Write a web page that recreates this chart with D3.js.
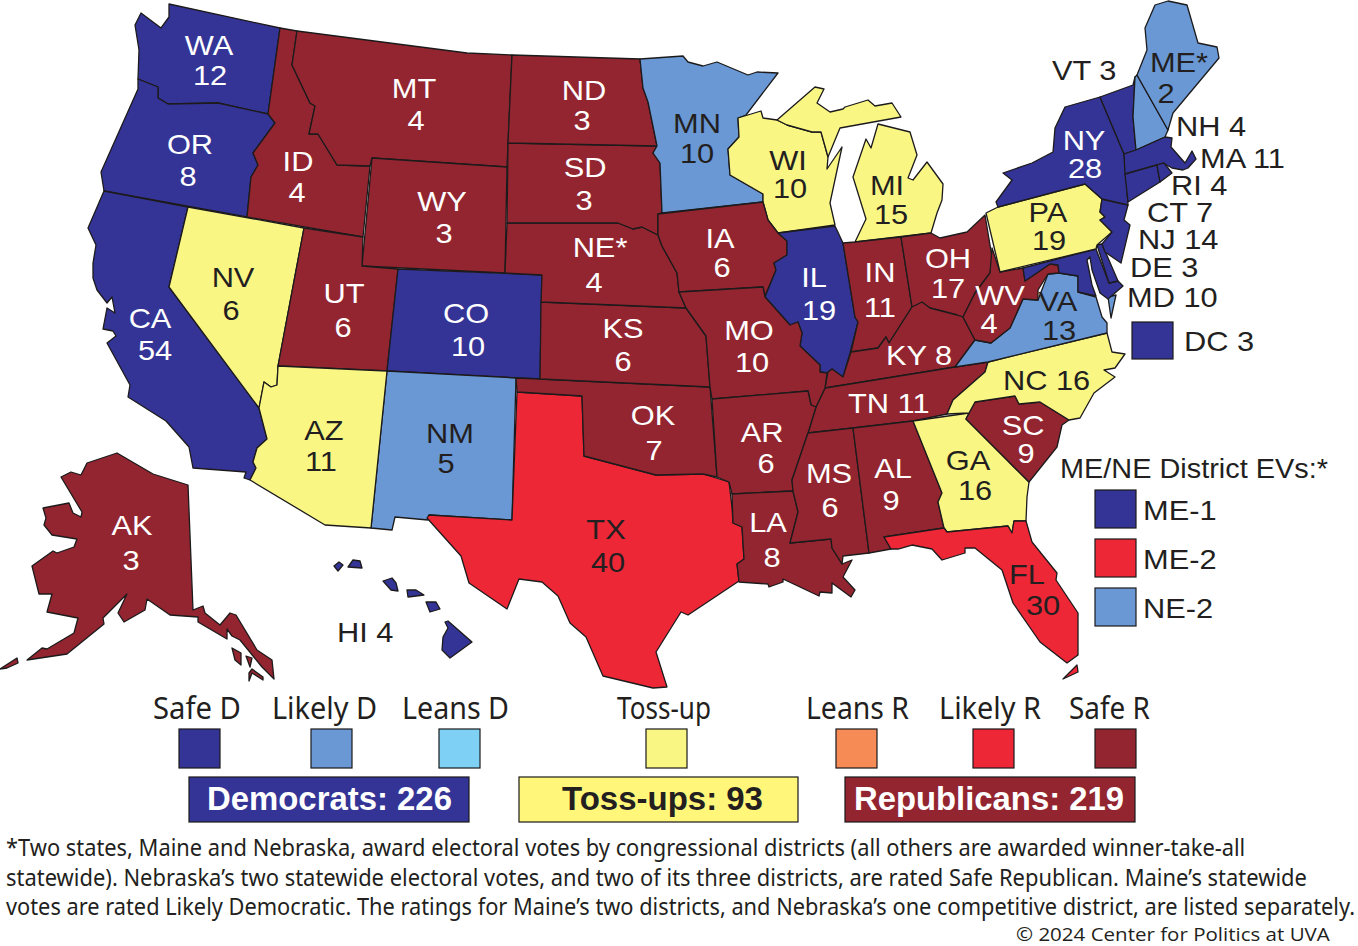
<!DOCTYPE html>
<html>
<head>
<meta charset="utf-8">
<title>2024 Electoral College ratings</title>
<script src="https://cdn.jsdelivr.net/npm/d3@7/dist/d3.min.js"></script>
<style>
  html, body { margin: 0; padding: 0; background: #fff; }
  svg { display: block; }
  .state { stroke: #1c1a1b; stroke-width: 1.3; stroke-linejoin: round; }
  .swatch { stroke: #1c1a1b; stroke-width: 1.2; }
  text { font-family: "Liberation Sans", Arial, sans-serif; }
  .soft { font-family: "Noto Sans", sans-serif; }
</style>
</head>
<body>
<svg id="chart" width="1358" height="946"></svg>
<script>
// state outlines (one list of rings per state)
const WA = [[[169,4],[280,28],[268,114],[218,103],[168,104],[158,98],[158,87],[138,79],[139,50],[135,25],[141,13],[161,28],[169,17]]];
const OR = [[[138,79],[158,87],[158,98],[168,104],[218,103],[268,114],[275,123],[253,153],[258,165],[251,177],[247,217],[104,191],[101,172],[138,89]]];
const CA = [[[104,191],[188,207],[169,287],[259,408],[267,439],[257,448],[253,462],[256,468],[250,480],[244,478],[246,472],[193,468],[189,447],[166,421],[128,397],[130,385],[107,343],[116,336],[113,331],[103,329],[107,308],[115,313],[112,297],[107,303],[97,290],[93,278],[93,263],[96,245],[88,228]]];
const NV = [[[188,207],[304,228],[278,366],[277,385],[271,387],[264,382],[259,408],[169,287]]];
const ID = [[[280,28],[297,31],[292,65],[310,103],[315,106],[309,134],[318,134],[337,165],[370,166],[363,237],[247,217],[251,177],[258,165],[253,153],[275,123],[268,114]]];
const MT = [[[297,31],[467,53],[512,55],[507,167],[372,158],[370,166],[337,165],[318,134],[309,134],[315,106],[310,103],[292,65]]];
const WY = [[[372,158],[507,167],[505,273],[362,266]]];
const UT = [[[304,228],[363,237],[362,266],[398,269],[387,371],[278,366]]];
const CO = [[[398,269],[542,275],[540,379],[387,371]]];
const NM = [[[387,371],[516,378],[512,520],[429,515],[428,520],[395,517],[392,530],[371,528]]];
const AZ = [[[278,366],[387,371],[371,528],[325,525],[250,480],[256,468],[253,462],[257,448],[267,439],[259,408],[264,382],[271,387],[277,385]]];
const TX = [[[517,392],[582,396],[584,456],[656,475],[703,474],[729,482],[732,507],[733,523],[742,527],[744,559],[737,564],[739,581],[688,615],[681,612],[656,652],[667,687],[653,688],[603,676],[586,637],[570,623],[558,596],[542,582],[519,579],[507,609],[469,583],[461,556],[427,518],[429,515],[512,520]]];
const OK = [[[516,378],[540,379],[710,387],[717,477],[703,474],[656,475],[584,456],[582,396],[517,392]]];
const KS = [[[541,302],[686,308],[706,336],[710,387],[540,379]]];
const NE = [[[507,223],[618,223],[633,229],[642,227],[658,235],[662,246],[677,273],[679,292],[686,308],[541,302],[542,275],[505,273]]];
const SD = [[[508,143],[657,146],[653,153],[660,163],[662,213],[658,214],[658,235],[642,227],[633,229],[618,223],[507,223]]];
const ND = [[[512,55],[640,59],[643,88],[648,102],[657,146],[508,143]]];
const MN = [[[640,59],[683,56],[688,62],[703,66],[717,62],[748,75],[757,72],[778,73],[746,115],[738,118],[739,137],[728,149],[730,175],[763,194],[763,202],[662,213],[660,163],[653,153],[657,146],[648,102],[643,88]]];
const WI = [[[738,118],[761,111],[763,118],[777,120],[787,125],[812,132],[821,132],[828,157],[827,169],[842,147],[830,203],[835,225],[778,233],[768,220],[763,202],[763,194],[730,175],[728,149],[739,137]]];
const MI = [
  [[777,120],[815,87],[824,89],[817,103],[830,112],[843,109],[845,107],[868,100],[875,106],[892,103],[901,117],[840,128],[828,157],[821,132],[812,132],[787,125]],
  [[878,124],[910,132],[917,155],[908,178],[913,180],[927,162],[943,184],[942,200],[937,213],[931,233],[855,242],[866,219],[853,177],[866,139],[871,148]]
];
const IA = [[[658,214],[763,202],[768,220],[778,233],[787,241],[787,255],[774,263],[776,270],[765,296],[763,287],[679,292],[677,273],[662,246],[658,235]]];
const IL = [[[778,233],[835,226],[843,243],[855,317],[858,322],[850,353],[843,377],[832,369],[827,373],[820,372],[820,365],[800,346],[802,333],[798,322],[790,325],[765,297],[776,270],[774,263],[787,255],[787,241]]];
const IN = [[[843,243],[855,242],[901,237],[912,307],[889,343],[886,337],[878,348],[851,352],[858,322],[855,317]]];
const OH = [[[901,237],[931,233],[940,238],[967,232],[985,215],[992,257],[992,263],[990,273],[975,293],[963,317],[957,315],[930,308],[922,303],[912,307]]];
const KY = [[[851,352],[878,348],[886,337],[889,343],[912,307],[922,302],[930,308],[957,315],[963,317],[975,340],[955,367],[850,384],[825,388],[828,372],[832,369],[843,377]]];
const TN = [[[825,388],[850,384],[955,367],[988,362],[985,372],[953,400],[947,414],[913,421],[853,428],[808,433],[816,407]]];
const MO = [[[679,292],[763,287],[765,297],[790,325],[798,322],[802,333],[800,346],[820,365],[820,372],[827,373],[825,388],[816,407],[811,405],[808,391],[712,399],[710,387],[706,336],[686,308]]];
const AR = [[[712,399],[808,391],[811,405],[816,407],[808,433],[792,480],[793,491],[732,494],[729,482],[717,477]]];
const LA = [[[732,494],[793,491],[798,512],[790,543],[831,539],[832,548],[842,564],[852,560],[843,577],[855,590],[851,597],[832,583],[832,593],[820,592],[819,596],[783,579],[783,582],[769,587],[768,584],[739,582],[737,564],[744,559],[742,527],[733,523]]];
const MS = [[[808,433],[853,428],[869,553],[843,556],[842,564],[832,548],[831,539],[790,543],[798,512],[793,491],[792,480]]];
const AL = [[[853,428],[913,421],[942,493],[938,502],[944,528],[884,537],[891,549],[880,551],[869,553]]];
const GA = [[[913,421],[969,413],[966,419],[1029,482],[1027,497],[1026,521],[1014,521],[1012,533],[1008,526],[947,532],[944,528],[938,502],[942,493]]];
const FL = [
  [[884,537],[944,528],[947,532],[1008,526],[1012,533],[1014,521],[1026,521],[1032,542],[1057,573],[1056,580],[1078,613],[1078,655],[1067,663],[1040,642],[1013,603],[1002,570],[975,548],[965,548],[965,553],[942,560],[932,549],[912,545],[898,549],[891,549]],
  [[1063,679],[1077,665],[1078,672]]
];
const SC = [[[966,419],[975,402],[1015,396],[1019,404],[1040,402],[1069,420],[1062,425],[1057,447],[1029,482]]];
const NC = [[[988,362],[1107,333],[1112,352],[1125,354],[1115,368],[1104,370],[1115,377],[1094,393],[1080,418],[1069,420],[1040,402],[1019,404],[1015,396],[975,402],[969,413],[947,414],[953,400],[985,372]]];
const VA = [
  [[955,367],[975,340],[991,343],[1010,328],[1023,299],[1038,300],[1048,274],[1059,273],[1078,276],[1078,292],[1096,297],[1102,317],[1107,323],[1107,333],[988,362]],
  [[1108,297],[1116,295],[1111,318]]
];
const WV = [[[992,248],[1000,272],[1023,268],[1025,281],[1050,264],[1058,265],[1059,273],[1048,274],[1038,290],[1038,300],[1023,299],[1010,328],[991,343],[975,340],[963,317],[975,293],[990,273]]];
const MD = [[[1023,268],[1096,249],[1109,283],[1118,281],[1123,286],[1108,299],[1100,293],[1092,270],[1090,257],[1087,260],[1092,285],[1096,296],[1078,292],[1078,276],[1059,273],[1058,265],[1050,264],[1025,281]]];
const DE = [[[1097,245],[1102,244],[1118,281],[1109,283]]];
const PA = [[[986,213],[998,207],[1085,184],[1102,199],[1100,212],[1105,217],[1100,220],[1112,232],[1097,245],[1096,249],[1000,272]]];
const NJ = [[[1102,199],[1128,205],[1124,220],[1130,225],[1121,263],[1105,252],[1102,244],[1112,232],[1100,220],[1105,217],[1100,212]]];
const NY = [[[1065,107],[1100,97],[1124,154],[1126,177],[1128,205],[1102,199],[1085,184],[998,207],[996,202],[1012,180],[1003,173],[1032,163],[1053,152],[1055,128]]];
const VT = [[[1100,97],[1133,85],[1135,77],[1133,117],[1136,150],[1124,154]]];
const NH = [[[1137,75],[1168,130],[1165,137],[1136,150],[1133,117],[1135,77]]];
const ME = [[[1137,75],[1147,50],[1145,28],[1155,5],[1168,1],[1187,5],[1198,43],[1217,47],[1219,58],[1173,113],[1168,130]]];
const MA = [[[1124,154],[1136,150],[1165,137],[1172,138],[1171,147],[1185,163],[1192,151],[1196,159],[1188,168],[1183,170],[1172,168],[1163,163],[1125,174]]];
const CT = [[[1125,174],[1157,165],[1160,182],[1128,202]]];
const RI = [[[1157,165],[1164,163],[1172,173],[1160,182]]];
const AK = [
  [[117,453],[153,474],[188,485],[193,610],[203,606],[205,613],[220,625],[230,613],[236,615],[257,650],[272,660],[274,679],[262,667],[240,640],[232,636],[227,629],[227,639],[198,622],[198,617],[170,615],[147,599],[145,610],[124,622],[118,613],[127,594],[103,618],[104,624],[67,654],[27,660],[42,648],[47,649],[74,633],[78,618],[47,612],[52,594],[39,594],[32,566],[53,551],[57,553],[74,547],[77,539],[52,535],[44,525],[46,518],[43,508],[69,503],[73,513],[81,517],[82,512],[61,477],[71,472],[81,475],[87,463]],
  [[0,669],[17,658],[18,663],[7,668]],
  [[232,648],[241,653],[241,665],[235,660]],
  [[246,656],[252,658],[250,667]],
  [[252,669],[263,677],[263,680],[252,673],[249,681],[249,673]]
];
const HI = [
  [[334,566],[339,562],[343,565],[338,571]],
  [[348,567],[353,560],[360,561],[362,568]],
  [[383,581],[392,578],[396,583],[398,591],[391,590]],
  [[407,590],[416,590],[424,595],[408,597]],
  [[426,602],[436,602],[440,609],[430,612]],
  [[445,622],[448,621],[472,642],[450,658],[442,650],[443,637],[448,628]]
];

// values
const categories = ["Safe D", "Likely D", "Leans D", "Toss-up", "Leans R", "Likely R", "Safe R"];
const safeD = ["WA","OR","CA","CO","IL","NY","VT","MA","CT","RI","NJ","DE","MD","HI"];
const likelyD = ["MN","NM","VA","NH","ME"];
const tossUp = ["NV","AZ","WI","MI","PA","NC","GA"];
const likelyR = ["TX","FL"];
const safeR = ["ID","MT","WY","UT","ND","SD","NE","KS","OK","IA","MO","AR","LA","MS","AL","TN","KY","IN","OH","WV","SC","AK"];
const stateIds = ["WA","OR","CA","NV","ID","MT","WY","UT","CO","NM","AZ","ND","SD","NE","KS","OK","TX","MN","IA","MO","AR","LA","WI","IL","MI","IN","OH","KY","TN","MS","AL","GA","FL","SC","NC","VA","WV","PA","NY","NJ","DE","MD","CT","RI","MA","VT","NH","ME","AK","HI"];
const electoralVotes = [12,8,54,6,4,4,3,6,10,5,11,3,3,4,6,7,40,10,6,10,6,8,10,19,15,11,17,8,11,6,9,16,30,9,16,13,4,19,28,14,3,10,7,4,11,3,4,2,3,4];
const starred = ["NE","ME"];
const districtNames = ["ME-1", "ME-2", "NE-2"];
const districtRatings = ["Safe D", "Likely R", "Likely D"];
const totalNames = ["Democrats: 226", "Toss-ups: 93", "Republicans: 219"];
const footnote = [
  "*Two states, Maine and Nebraska, award electoral votes by congressional districts (all others are awarded winner-take-all",
  "statewide). Nebraska\u2019s two statewide electoral votes, and two of its three districts, are rated Safe Republican. Maine\u2019s statewide",
  "votes are rated Likely Democratic. The ratings for Maine\u2019s two districts, and Nebraska\u2019s one competitive district, are listed separately."
];

// layout
const outlines = {WA,OR,CA,NV,ID,MT,WY,UT,CO,NM,AZ,TX,OK,KS,NE,SD,ND,MN,WI,MI,IA,IL,IN,OH,KY,TN,MO,AR,LA,MS,AL,GA,FL,SC,NC,VA,WV,MD,DE,PA,NJ,NY,VT,NH,ME,MA,CT,RI,AK,HI};
// id, name x, name baseline, votes x, votes baseline
const stackedLabels = [
  ["WA",209,55,210,85],["OR",190,154,188,186],["ID",298,171,297,202],["MT",414,98,416,130],["WY",442,211,444,243],
  ["ND",584,100,582,130],["SD",585,177,584,210],["NE",600,257,594,292],["MN",697,133,697,163],["WI",788,170,790,198],
  ["MI",887,195,891,224],["IA",720,248,722,277],["IL",814,287,819,320],["IN",880,282,880,317],["OH",948,268,948,298],
  ["KS",623,338,623,371],["MO",749,340,752,372],["OK",653,425,654,460],["AR",762,442,766,473],["LA",768,532,772,567],
  ["MS",829,483,830,517],["AL",893,478,891,510],["TX",606,539,608,572],["WV",1000,305,989,333],["VA",1058,311,1059,340],
  ["PA",1048,222,1049,250],["NY",1084,150,1085,178],["ME",1179,72,1166,103],["NV",233,287,231,320],["UT",344,303,343,337],
  ["CO",466,323,468,356],["CA",150,328,155,360],["AZ",324,440,321,471],["NM",450,443,446,473],["AK",132,535,131,570],
  ["SC",1023,435,1026,463],["GA",968,470,975,500],["FL",1027,584,1043,615]
];
// id, start x, baseline
const inlineLabels = [
  ["TN",848,413],["KY",886,365],["NC",1003,390],["VT",1052,80],["NH",1176,136],["MA",1200,168],
  ["RI",1171,195],["CT",1147,222],["NJ",1138,249],["DE",1130,277],["MD",1127,307],["HI",337,642]
];
const darkOutside = ["VT","NH","MA","RI","CT","NJ","DE","MD","HI"];
const labelStretch = 1.08;

const svg = d3.select("#chart");
const colour = d3.scaleOrdinal().domain(categories)
  .range(["#343496", "#6998d4", "#7fd0f5", "#f9f684", "#f68b55", "#ee2737", "#932530"]);
const swatchX = d3.scaleOrdinal().domain(categories).range([179, 311, 439, 646, 836, 973, 1095]);
const captionX = d3.scaleOrdinal().domain(categories).range([[153,241],[272,377],[402,509],[617,711],[806,909],[939,1041],[1069,1150]]);

function rating_of(id) {
  if (safeD.includes(id)) return "Safe D";
  if (likelyD.includes(id)) return "Likely D";
  if (tossUp.includes(id)) return "Toss-up";
  if (likelyR.includes(id)) return "Likely R";
  return "Safe R";
}

function label_colour(id) {
  if (darkOutside.includes(id)) return "#231f20";
  return (rating_of(id) == "Safe D" || rating_of(id) == "Safe R") ? "#fff" : "#231f20";
}

function votes_of(id) {
  return electoralVotes[stateIds.indexOf(id)];
}

function fit_text(sel, left, right, base) {
  // squeeze a text between two x positions, the reference font is narrower than ours
  var k = (right - left) / sel.node().getComputedTextLength();
  sel.attr("transform", "translate(" + left + "," + base + ") scale(" + k + ",1)");
}

function put_label(txt, x, y, fill, anchor) {
  // the map labels are a bit wider than plain Liberation Sans
  labels.append("text").attr("text-anchor", anchor).attr("fill", fill)
    .attr("transform", "translate(" + x + "," + y + ") scale(" + labelStretch + ",1)")
    .text(txt);
}

// the outlines are already in page units, so the projection is the identity
const path = d3.geoPath(d3.geoIdentity());

function as_feature(id) {
  var rings = outlines[id].map(function(r) { return [r.concat([r[0]])]; });
  return {type: "Feature", id: id, geometry: {type: "MultiPolygon", coordinates: rings}};
}

svg.append("g").selectAll("path")
  .data(Object.keys(outlines).map(as_feature))
  .enter().append("path")
  .attr("class", "state")
  .attr("fill", function(d) { return colour(rating_of(d.id)); })
  .attr("d", path);

// state labels
const labels = svg.append("g").attr("font-size", 28.5);
stackedLabels.forEach(function(l) {
  var id = l[0];
  put_label(id + (starred.includes(id) ? "*" : ""), l[1], l[2], label_colour(id), "middle");
  put_label(votes_of(id), l[3], l[4], label_colour(id), "middle");
});
inlineLabels.forEach(function(l) {
  put_label(l[0] + " " + votes_of(l[0]), l[1], l[2], label_colour(l[0]), "start");
});

// DC box
svg.append("rect").attr("class", "swatch").attr("x", 1132).attr("y", 322).attr("width", 41).attr("height", 37)
  .attr("fill", colour("Safe D"));
put_label("DC 3", 1184, 351, "#231f20", "start");

// district box
fit_text(labels.append("text").attr("fill", "#231f20").text("ME/NE District EVs:*"), 1060, 1328, 478);
const districtY = d3.scalePoint().domain(districtNames).range([490, 588]);
svg.append("g").selectAll("rect").data(districtNames).enter().append("rect")
  .attr("class", "swatch")
  .attr("x", 1095).attr("y", function(d) { return districtY(d); })
  .attr("width", 41).attr("height", 38)
  .attr("fill", function(d, i) { return colour(districtRatings[i]); });
districtNames.forEach(function(d) {
  put_label(d, 1143, districtY(d) + 30, "#231f20", "start");
});

// rating legend
svg.append("g").selectAll("rect").data(categories).enter().append("rect")
  .attr("class", "swatch")
  .attr("x", function(d) { return swatchX(d); }).attr("y", 729)
  .attr("width", 41).attr("height", 39)
  .attr("fill", function(d) { return colour(d); });
const captions = svg.append("g");
categories.forEach(function(c) {
  var t = captions.append("text").attr("class", "soft").attr("font-size", 31).attr("fill", "#231f20").text(c);
  fit_text(t, captionX(c)[0], captionX(c)[1], 719);
});

// totals
const totalBoxes = [[189,469,207,452,"#343496","#fff"],[519,798,562,763,"#fff67a","#231f20"],[845,1135,854,1124,"#932530","#fff"]];
totalNames.forEach(function(name, i) {
  var b = totalBoxes[i];
  svg.append("rect").attr("class", "swatch").attr("x", b[0]).attr("y", 777)
    .attr("width", b[1] - b[0]).attr("height", 45).attr("fill", b[4]);
  var t = svg.append("text").attr("font-size", 33).attr("font-weight", "bold").attr("fill", b[5]).text(name);
  fit_text(t, b[2], b[3], 810);
});

// footnote
const footRight = [1246, 1307, 1356];
const footBase = [856, 886, 915];
footnote.forEach(function(line, i) {
  var t = svg.append("text").attr("class", "soft").attr("font-size", 23).attr("fill", "#231f20").text(line);
  fit_text(t, 6, footRight[i], footBase[i]);
});
var copyright = svg.append("text").style("font-family", "'Open Sans', sans-serif")
  .attr("font-size", 19).attr("fill", "#231f20")
  .text("\u00a9 2024 Center for Politics at UVA");
fit_text(copyright, 1016, 1330, 941);
</script>
</body>
</html>
